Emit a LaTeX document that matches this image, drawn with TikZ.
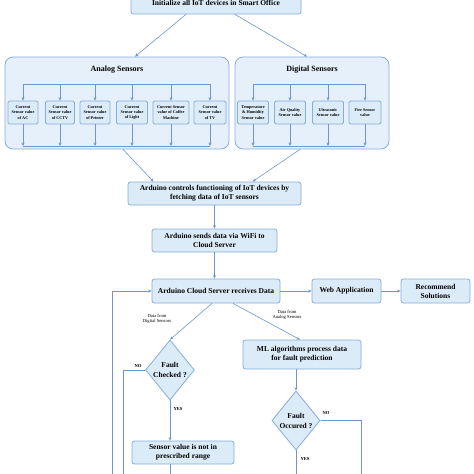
\documentclass[tikz,border=0pt]{standalone}
\usepackage{fontspec}
\setmainfont{Liberation Serif}
\usetikzlibrary{shapes.geometric,arrows.meta}
\definecolor{boxfill}{HTML}{DCEBF8}
\definecolor{boxline}{HTML}{86AED8}
\definecolor{flow}{HTML}{6F97CC}
\begin{document}
\begin{tikzpicture}[x=1pt,y=-1pt,
  box/.style={draw=boxline,fill=boxfill,rounded corners=2.5pt,line width=0.8pt,align=center,
    inner sep=1pt,font=\fontsize{7.5}{9}\selectfont\bfseries},
  sbox/.style={box,rounded corners=1.5pt,minimum height=23,font=\fontsize{4.2}{5.4}\selectfont\bfseries},
  grp/.style={draw=boxline,fill=boxfill!75,rounded corners=8pt,line width=0.8pt},
  dia/.style={diamond,draw=boxline,fill=boxfill,line width=0.8pt,align=center,inner sep=0pt,
    font=\fontsize{7.5}{10}\selectfont\bfseries},
  flowln/.style={draw=flow,line width=0.6pt,-{Stealth[length=3.5pt,width=3pt]}},
  plain/.style={draw=flow,line width=0.6pt},
  lbl/.style={font=\fontsize{4.6}{5.6}\selectfont,align=center,inner sep=0pt},
  yn/.style={font=\fontsize{4.6}{5}\selectfont\bfseries,inner sep=0pt}]
\clip (0,0) rectangle (474,474);
\fill[white] (0,0) rectangle (474,474);

% top
\node[box,minimum width=170,minimum height=22] (init) at (216,3) {Initialize all IoT devices in Smart Office};

% sensor groups
\node[grp,minimum width=224,minimum height=92] (analog) at (117,103) {};
\node[grp,minimum width=154,minimum height=92] (digital) at (312,103) {};
\node[font=\fontsize{8}{9}\selectfont\bfseries] (atitle) at (117,70) {Analog Sensors};
\node[font=\fontsize{8}{9}\selectfont\bfseries] (dtitle) at (312,70) {Digital Sensors};
\coordinate (abus) at (0,84);
\coordinate (abot) at (0,146);

\foreach \cx/\w/\nm/\txt in {23/30/a1/{Current\\Sensor value\\of AC},
    60/29/a2/{Current\\Sensor value\\of CCTV},
    95/30/a3/{Current\\Sensor value\\of Printer},
    132/31/a4/{Current\\Sensor value\\of Light},
    171/36/a5/{Current Sensor\\value of Coffee\\Machine},
    210/32/a6/{Current\\Sensor value\\of TV},
    253/31/d1/{Temperature\\\& Humidity\\Sensor value},
    290/31/d2/{Air Quality\\Sensor value},
    328/31/d3/{Ultrasonic\\Sensor value},
    365/32/d4/{Fire Sensor\\value}}{
  \node[sbox,minimum width=\w] (\nm) at (\cx,112.5) {\txt};
  \draw[flowln] (\nm.north |- abus) -- (\nm.north);
  \draw[flowln] (\nm.south) -- (\nm.south |- abot);
}
\draw[plain] (a1.north |- abus) -- (a6.north |- abus);
\draw[plain] (a1.south |- abot) -- (a6.south |- abot);
\draw[plain] (d1.north |- abus) -- (d4.north |- abus);
\draw[plain] (d1.south |- abot) -- (d4.south |- abot);

\draw[flowln] ([xshift=-30pt]init.south) -- ([xshift=18pt]analog.north);
\draw[flowln] ([xshift=19pt]init.south) -- ([xshift=-5pt]digital.north);

% arduino
\node[box,minimum width=173,minimum height=23] (ctrl) at (214.5,193.5)
  {Arduino controls functioning of IoT devices by\\fetching data of IoT sensors};
\node[box,minimum width=125,minimum height=23] (send) at (214.5,240.5)
  {Arduino sends data via WiFi to\\Cloud Server};
\draw[flowln] ([xshift=6pt]analog.south) -- ([xshift=-61pt]ctrl.north);
\draw[flowln] ([xshift=-12pt]digital.south) -- ([xshift=38pt]ctrl.north);
\draw[flowln] (ctrl.south) -- (send.north);

% cloud
\node[box,minimum width=128,minimum height=24] (cloud) at (216,291) {Arduino Cloud Server receives Data};
\node[box,minimum width=69,minimum height=24] (web) at (346.5,291) {Web Application};
\node[box,minimum width=69,minimum height=24] (rec) at (435.5,291) {Recommend\\Solutions};
\draw[flowln] (send.south) -- (send.south |- cloud.north);
\draw[flowln] (cloud) -- (web);
\draw[flowln] (web) -- (rec);

% fault checks
\node[dia,minimum width=48,minimum height=60] (fc) at (170,370) {Fault\\Checked ?};
\node[box,minimum width=118,minimum height=29] (ml) at (302,354.5)
  {ML algorithms process data\\for fault prediction};
\node[dia,minimum width=48,minimum height=59] (fo) at (296,420.5) {Fault\\Occured ?};
\node[box,minimum width=102,minimum height=23] (sv) at (183,452.5) {Sensor value is not in\\prescribed range};

\draw[flowln] ([xshift=-4pt]cloud.south) -- (fc.north);
\draw[flowln] ([xshift=17pt]cloud.south) -- ([xshift=-2pt]ml.north);
\node[lbl] (ldig) at (157,319) {Data from\\Digital Sensors};
\node[lbl] (lana) at (287,315) {Data from\\Analog Sensors};

\draw[flowln] (ml.south -| fo.north) -- (fo.north);
\draw[flowln] (fc.south) -- (fc.south |- sv.north);
\node[yn] (fcyes) at (178,409) {YES};
\node[yn] (fcno) at (138,366) {NO};
\node[yn] (foyes) at (305,459) {YES};
\node[yn] (fono) at (326,413) {NO};

\coordinate (loop1) at (112,480);
\coordinate (loop2) at (123,480);
\coordinate (fonoend) at (361,480);
\draw[flowln] (loop1) |- (cloud.west);
\draw[plain] (fc.west) -| (loop2);
\draw[plain] (fo.east) -| (fonoend);
\draw[plain] (fo.south) -- (fo.south |- fonoend);
\draw[plain] (sv.south -| fc.south) -- (fc.south |- fonoend);
\end{tikzpicture}
\end{document}
